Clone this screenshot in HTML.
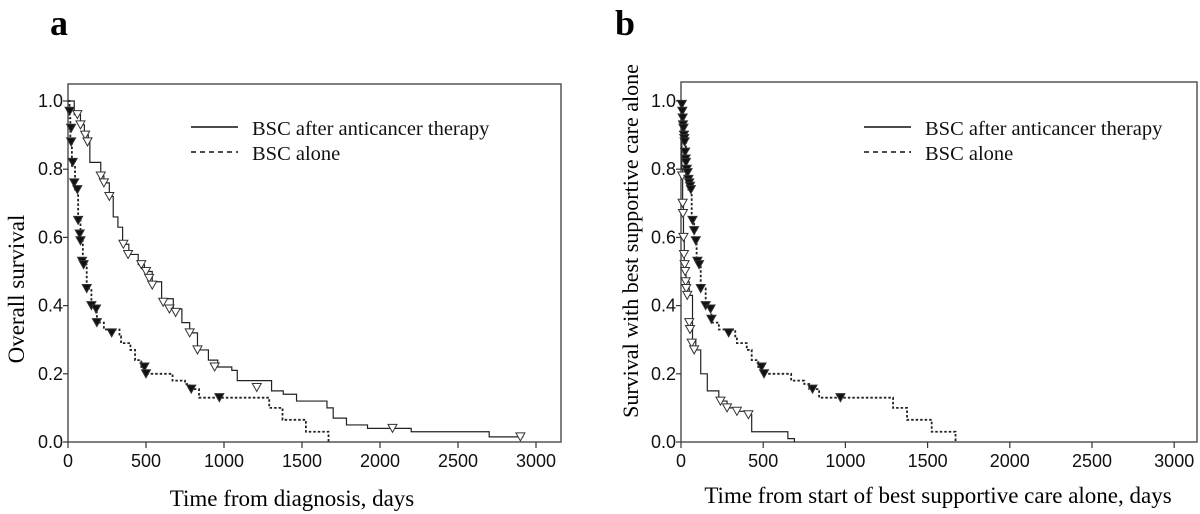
<!DOCTYPE html>
<html><head><meta charset="utf-8"><style>
html,body{margin:0;padding:0;background:#fff;width:1200px;height:514px;overflow:hidden}
svg text{font-family:"Liberation Sans",Arial,sans-serif}
.serif{font-family:"Liberation Serif","Times New Roman",serif}
</style></head><body>
<svg id="chart" width="1200" height="514" viewBox="0 0 1200 514" xmlns="http://www.w3.org/2000/svg">
<text x="50" y="35" class="serif" font-size="36" font-weight="bold">a</text>
<text x="615" y="35" class="serif" font-size="36" font-weight="bold">b</text>
<text class="serif" font-size="23" text-anchor="middle" transform="translate(24,289) rotate(-90)">Overall survival</text>
<text x="292" y="506" class="serif" font-size="23" text-anchor="middle">Time from diagnosis, days</text>
<text class="serif" font-size="22" text-anchor="middle" transform="translate(638,241) rotate(-90)">Survival  with  best supportive care alone</text>
<text x="938" y="503" class="serif" font-size="23" text-anchor="middle">Time from start of best supportive care alone, days</text>
<g id="pa"></g><g id="pb"></g>
</svg>
<script>
const xTicks=[0,500,1000,1500,2000,2500,3000];
const yTicks=[0,0.2,0.4,0.6,0.8,1.0];
const yTickLabels=["0.0","0.2","0.4","0.6","0.8","1.0"];
// Panel a
const aSolidT=[0,40,80,105,130,140,210,230,265,290,320,350,390,450,490,540,600,675,730,780,830,900,960,1050,1085,1305,1380,1465,1660,1700,1785,1920,2200,2700,2920];
const aSolidS=[1,0.96,0.93,0.90,0.88,0.82,0.78,0.76,0.72,0.66,0.63,0.58,0.55,0.52,0.50,0.47,0.42,0.39,0.35,0.32,0.27,0.24,0.22,0.21,0.18,0.15,0.14,0.12,0.10,0.07,0.05,0.04,0.03,0.015,0.015];
const aSolidCensT=[60,80,110,125,210,230,265,355,385,470,500,520,540,610,650,690,780,830,940,1210,2080,2900];
const aSolidCensS=[0.96,0.93,0.90,0.88,0.78,0.76,0.72,0.58,0.55,0.52,0.50,0.48,0.46,0.41,0.39,0.38,0.32,0.27,0.22,0.16,0.04,0.015];
const aDashT=[0,10,15,25,45,65,80,95,120,150,180,185,230,330,340,400,430,470,500,670,750,780,840,1290,1375,1525,1670];
const aDashS=[1,0.95,0.88,0.81,0.74,0.65,0.59,0.52,0.45,0.40,0.38,0.35,0.33,0.31,0.29,0.27,0.24,0.22,0.20,0.18,0.17,0.155,0.13,0.10,0.065,0.03,0];
const aDashCensT=[10,20,20,30,40,60,65,75,80,90,100,120,150,180,185,280,490,500,790,970];
const aDashCensS=[0.97,0.92,0.88,0.82,0.76,0.74,0.65,0.61,0.59,0.53,0.52,0.45,0.40,0.39,0.35,0.32,0.22,0.20,0.155,0.13];
// Panel b
const bSolidT=[0,5,10,15,20,30,50,70,90,120,160,230,280,330,400,430,650,690];
const bSolidS=[1,0.8,0.7,0.6,0.52,0.47,0.43,0.30,0.27,0.20,0.15,0.12,0.10,0.09,0.08,0.03,0.01,0];
const bSolidCensT=[8,10,12,15,18,22,25,28,32,38,50,55,65,80,240,280,340,410];
const bSolidCensS=[0.78,0.70,0.67,0.60,0.55,0.52,0.50,0.47,0.45,0.43,0.35,0.33,0.29,0.27,0.12,0.10,0.09,0.08];
const bDashT=[0,10,20,30,45,65,80,95,120,150,180,185,230,330,340,400,430,470,500,670,750,780,840,1290,1375,1525,1670];
const bDashS=[1,0.95,0.88,0.81,0.74,0.65,0.59,0.52,0.45,0.40,0.38,0.35,0.33,0.31,0.29,0.27,0.24,0.22,0.20,0.18,0.17,0.155,0.13,0.10,0.065,0.03,0];
const bDashCensT=[5,8,10,12,15,18,20,22,25,28,30,35,40,45,50,55,60,70,80,90,100,110,120,150,180,185,290,490,505,800,970];
const bDashCensS=[0.99,0.97,0.95,0.93,0.92,0.90,0.89,0.88,0.85,0.83,0.82,0.80,0.79,0.77,0.76,0.75,0.74,0.65,0.62,0.59,0.53,0.52,0.45,0.40,0.39,0.36,0.32,0.22,0.20,0.155,0.13];

const NS='http://www.w3.org/2000/svg';
function mk(parent,tag,attrs){const e=document.createElementNS(NS,tag);for(const k in attrs)e.setAttribute(k,attrs[k]);parent.appendChild(e);return e;}

function panel(gid,box,x0px,pxPer500,legX,data){
  const g=document.getElementById(gid);
  const y0=442,y1=101;
  const xs=t=>x0px+t/500*pxPer500;
  const ys=s=>y0-(s)*(y0-y1);
  const frame=mk(g,'rect',{x:box.l,y:box.t,width:box.r-box.l,height:y0-box.t,fill:'none',stroke:'#555','stroke-width':1.5});
  
  
  xTicks.forEach(v=>{
    const x=xs(v);
    const tk=mk(g,'line',{x1:x,x2:x,y1:y0,y2:y0+6,stroke:'#333','stroke-width':1.2});
    
    
    const tx=mk(g,'text',{x:x,y:y0+25,'font-size':18,'text-anchor':'middle',fill:'#111'});
    tx.textContent=v;
    
    
  });
  yTicks.forEach((v,i)=>{
    const y=ys(v);
    const tk=mk(g,'line',{x1:box.l-5,x2:box.l,y1:y,y2:y,stroke:'#333','stroke-width':1.2});
    
    
    const tx=mk(g,'text',{x:box.l-5,y:y+6,'font-size':18,'text-anchor':'end',fill:'#111'});
    tx.textContent=yTickLabels[i];
    
    
  });
  function step(T,S,dash,name){
    let d='M'+xs(T[0])+','+ys(S[0]);
    for(let i=1;i<T.length;i++){d+=' H'+xs(T[i])+' V'+ys(S[i]);}
    const p=mk(g,'path',{d:d,fill:'none',stroke:'#222','stroke-width':dash?1.8:1.2,'stroke-dasharray':dash?'2.5,2':'none'});
    
    
  }
  function cens(T,S,filled,name){
    T.forEach((t,i)=>{
      const x=xs(t),y=ys(S[i]);
      const p=mk(g,'path',{d:`M${x-4.5},${y-4} L${x+4.5},${y-4} L${x},${y+4} Z`,fill:filled?'#111':'#fff',stroke:'#333','stroke-width':1});
      
      
    });
  }
  step(data.sT,data.sS,false,gid+'-line-after-anticancer');
  step(data.dT,data.dS,true,gid+'-line-bsc-alone');
  cens(data.scT,data.scS,false,'censor-after-anticancer');
  cens(data.dcT,data.dcS,true,'censor-bsc-alone');
  const l1=mk(g,'line',{x1:legX,x2:legX+47,y1:127,y2:127,stroke:'#111','stroke-width':1.6});
  
  
  const l2=mk(g,'line',{x1:legX,x2:legX+47,y1:152,y2:152,stroke:'#111','stroke-width':1.6,'stroke-dasharray':'5,4'});
  
  
  const t1=mk(g,'text',{x:legX+61,y:135,'font-size':20.5,'class':'serif',fill:'#111'});
  t1.textContent='BSC after anticancer  therapy';
  
  
  const t2=mk(g,'text',{x:legX+61,y:160,'font-size':20.5,'class':'serif',fill:'#111'});
  t2.textContent='BSC alone';
  
  
}
panel('pa',{l:68,r:561,t:84},68,78,191,{sT:aSolidT,sS:aSolidS,dT:aDashT,dS:aDashS,scT:aSolidCensT,scS:aSolidCensS,dcT:aDashCensT,dcS:aDashCensS});
panel('pb',{l:681,r:1197,t:82},681,82.2,864,{sT:bSolidT,sS:bSolidS,dT:bDashT,dS:bDashS,scT:bSolidCensT,scS:bSolidCensS,dcT:bDashCensT,dcS:bDashCensS});
</script>
</body></html>
